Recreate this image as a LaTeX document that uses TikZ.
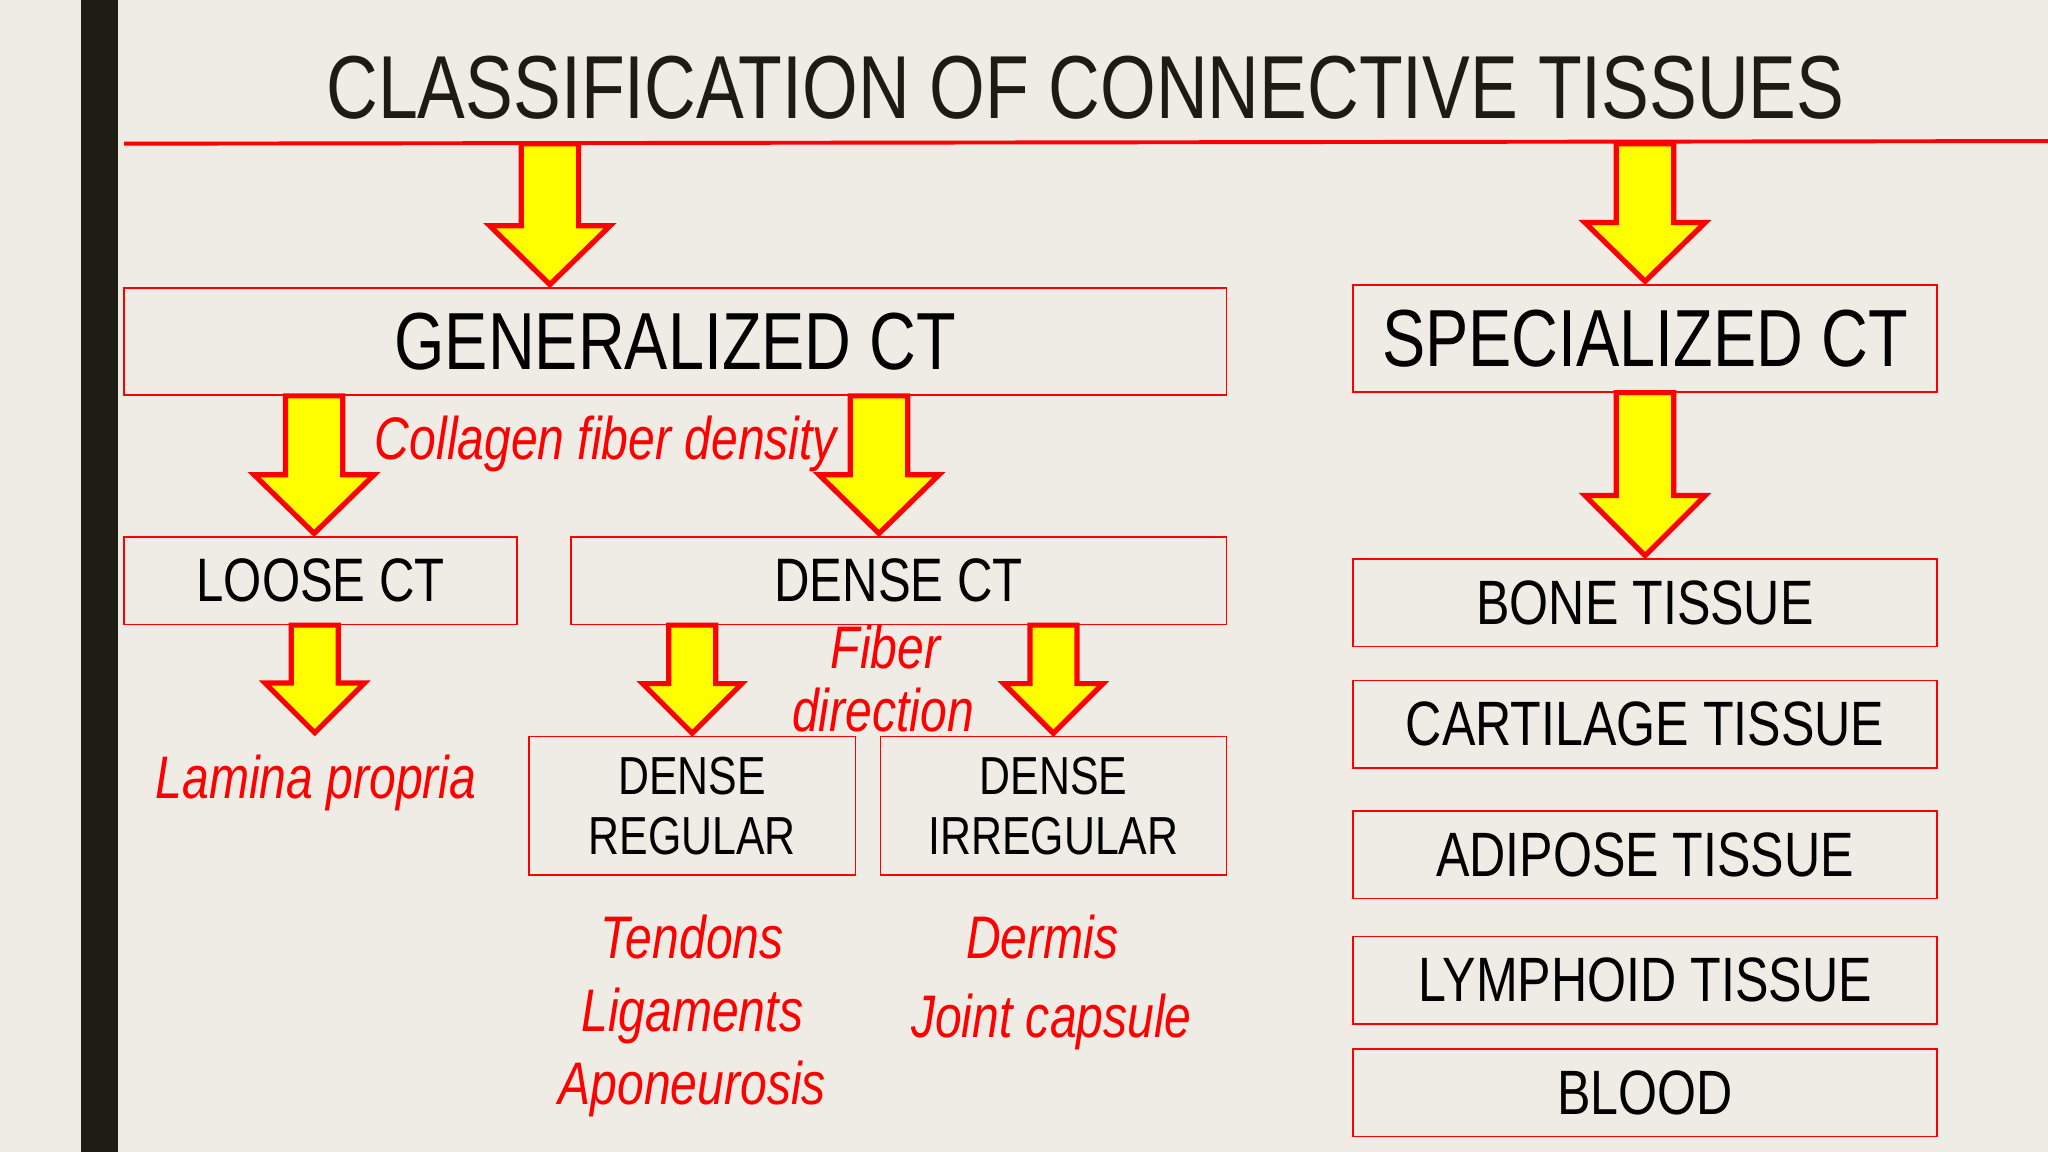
\documentclass[tikz,border=0pt]{standalone}
\usepackage{fontspec}
\setmainfont{Liberation Sans}[FakeStretch=0.8]
\usetikzlibrary{positioning, calc}

\definecolor{slidebg}{RGB}{239,236,230}
\definecolor{slidebar}{RGB}{30,29,20}
\definecolor{titleink}{RGB}{28,27,20}
\definecolor{ctred}{RGB}{255,0,0}
\definecolor{ctyellow}{RGB}{255,255,0}

% block arrow: start, tip, shaft half-width, head half-width, head length
\newcommand{\fatarrow}[5]{%
  \draw[fatarrow] let \p1=#1, \p2=#2 in
    (\x1-#3,\y1) -- (\x1-#3,\y2+#5) -- (\x1-#4,\y2+#5) -- (\x2,\y2)
    -- (\x1+#4,\y2+#5) -- (\x1+#3,\y2+#5) -- (\x1+#3,\y1) -- cycle;}

\begin{document}
\begin{tikzpicture}[
    x=1pt, y=-1pt,
    tissue/.style = {draw=ctred, line width=1.2pt, inner sep=0pt, align=center, text=black},
    bigbox/.style = {tissue, minimum height=82pt, font=\fontsize{62}{64}\selectfont},
    midbox/.style = {tissue, minimum height=67pt, font=\fontsize{47}{50}\selectfont},
    sidebox/.style = {midbox, minimum width=447pt, font=\fontsize{48}{50}\selectfont},
    subbox/.style = {tissue, minimum height=106pt, font=\fontsize{41}{46}\selectfont},
    redlabel/.style = {text=ctred, inner sep=0pt, anchor=base, font=\fontsize{46}{48}\selectfont\itshape},
    fatarrow/.style = {draw=ctred, fill=ctyellow, line width=4pt, miter limit=10}
]
    % slide background
    \fill[slidebg] (0,0) rectangle (1568,882);
    \useasboundingbox (0,0) rectangle (1568,882);
    \fill[slidebar] (62,0) rectangle (90,882);

    \node[font=\fontsize{68.5}{70}\selectfont, text=titleink, inner sep=0pt] (title) at (831,67) {CLASSIFICATION OF CONNECTIVE TISSUES};
    \coordinate (rule-w) at (95,110);
    \coordinate (rule-e) at (1568,108);
    \draw[ctred, line width=3pt] (rule-w) -- (rule-e);

    % main classes
    \node[bigbox, minimum width=844pt] (gen) at (517,261.5) {GENERALIZED CT};
    \node[bigbox, minimum width=447pt] (spec) at (1259.5,259) {SPECIALIZED CT};

    \node[midbox, minimum width=301pt] (loose) at (245.5,444.5) {LOOSE CT};
    \node[midbox, minimum width=502pt] (dense) at (688,444.5) {DENSE CT};
    \node[subbox, minimum width=250pt] (dreg) at (530,617) {DENSE\\REGULAR};
    \node[subbox, minimum width=265pt] (dirr) at (806.5,617) {DENSE\\IRREGULAR};

    % specialized column
    \node[sidebox, below=126.8pt of spec] (bone) {BONE TISSUE};
    \node[sidebox, below=24.8pt of bone] (cart) {CARTILAGE TISSUE};
    \node[sidebox, below=31.8pt of cart] (adip) {ADIPOSE TISSUE};
    \node[sidebox, below=27.8pt of adip] (lymph) {LYMPHOID TISSUE};
    \node[sidebox, below=17.8pt of lymph] (blood) {BLOOD};

    % red notes
    \node[redlabel] (collagen) at (464,352) {Collagen fiber density};
    \node[redlabel] (lamina) at (242,611) {Lamina propria};
    \node[redlabel] (fiber) at (678,512) {Fiber};
    \node[redlabel] (direction) at (676,560) {direction};
    \node[redlabel] (tendons) at (530,734) {Tendons};
    \node[redlabel] (ligaments) at (530,790) {Ligaments};
    \node[redlabel] (aponeurosis) at (530,846) {Aponeurosis};
    \node[redlabel] (dermis) at (798,734) {Dermis};
    \node[redlabel] (joint) at (805,794) {Joint capsule};

    % arrows
    \fatarrow{([xshift=-96pt]gen.north |- rule-w)}{([xshift=-96pt,yshift=2pt]gen.north)}{22pt}{46pt}{45pt}
    \fatarrow{(spec.north |- rule-w)}{([yshift=2pt]spec.north)}{22pt}{46pt}{45pt}
    \fatarrow{(spec.south)}{([yshift=2pt]bone.north)}{22pt}{46pt}{46pt}
    \fatarrow{([xshift=-5pt]loose.north |- gen.south)}{([xshift=-5pt,yshift=2pt]loose.north)}{22pt}{46pt}{45pt}
    \fatarrow{([xshift=-15pt]dense.north |- gen.south)}{([xshift=-15pt,yshift=2pt]dense.north)}{22pt}{46pt}{45pt}
    \fatarrow{([xshift=-1pt]lamina.base |- loose.south)}{([xshift=-1pt,yshift=50pt]lamina.base)}{18pt}{38pt}{38pt}
    \fatarrow{(dreg.north |- dense.south)}{([yshift=2pt]dreg.north)}{18pt}{38pt}{38pt}
    \fatarrow{(dirr.north |- dense.south)}{([yshift=2pt]dirr.north)}{18pt}{38pt}{38pt}
\end{tikzpicture}
\end{document}
